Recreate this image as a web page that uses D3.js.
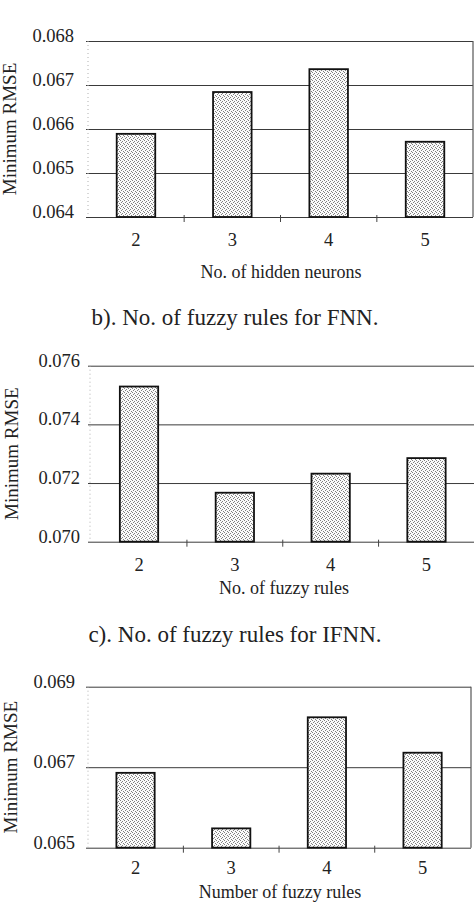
<!DOCTYPE html>
<html>
<head>
<meta charset="utf-8">
<script src="https://cdnjs.cloudflare.com/ajax/libs/d3/7.8.5/d3.min.js"></script>
<style>
	body { margin: 0; background: #fff; }
	svg { display: block; font-family: "Liberation Serif", "Times New Roman", serif; }
</style>
</head>
<body>
<script>

// x categories, the same in all three panels
var categories = ['2', '3', '4', '5'];

// a) hidden neurons
var hiddenNeuronsRMSE = [0.06589, 0.06684, 0.06736, 0.06571];
var hiddenNeuronsTicks = [0.064, 0.065, 0.066, 0.067, 0.068];

// b) fuzzy rules for FNN
var fnnRMSE = [0.07529, 0.07167, 0.07232, 0.07285];
var fnnTicks = [0.070, 0.072, 0.074, 0.076];

// c) fuzzy rules for IFNN
var ifnnRMSE = [0.06686, 0.06548, 0.06824, 0.06736];
var ifnnTicks = [0.065, 0.067, 0.069];

var panelTitles = [null, 'b). No. of fuzzy rules for FNN.', 'c). No. of fuzzy rules for IFNN.'];
var xTitles = ['No. of hidden neurons', 'No. of fuzzy rules', 'Number of fuzzy rules'];
var yTitle = 'Minimum RMSE';


var width = 474,
	height = 903;

var svg = d3.select('body').append('svg')
	.attr('width', width)
	.attr('height', height);

// stipple fill of the bars
var pattern = svg.append('defs').append('pattern')
	.attr('id', 'stipple')
	.attr('patternUnits', 'userSpaceOnUse')
	.attr('width', 4)
	.attr('height', 4);

pattern.append('rect').attr('width', 4).attr('height', 4).attr('fill', '#fbfbfb');
[[0, 0], [2, 1], [1, 2], [3, 3]].forEach(function(p) {
	pattern.append('rect')
		.attr('x', p[0]).attr('y', p[1])
		.attr('width', 1).attr('height', 1)
		.attr('fill', '#808080');
});


// where each panel sits on the page
var layout = [
	{values: hiddenNeuronsRMSE, ticks: hiddenNeuronsTicks, top: 41, bottom: 217,
		gridLeft: 86, bandLeft: 87.8, bandRight: 473.2, right: 473, labelGap: 12,
		xLabelY: 246, xTitleX: 281, xTitleY: 278, yTitleX: 16, titleY: null, rightBorder: true},
	{values: fnnRMSE, ticks: fnnTicks, top: 365.7, bottom: 541.7,
		gridLeft: 88, bandLeft: 91.1, bandRight: 474.4, right: 474, labelGap: 8,
		xLabelY: 571, xTitleX: 284, xTitleY: 594, yTitleX: 18, titleY: 325, rightBorder: false},
	{values: ifnnRMSE, ticks: ifnnTicks, top: 686.7, bottom: 847.7,
		gridLeft: 86, bandLeft: 87.7, bandRight: 470.4, right: 471, labelGap: 11,
		xLabelY: 874, xTitleX: 280, xTitleY: 898, yTitleX: 17, titleY: 642, rightBorder: true}
];


function drawPanel(p, i) {

	var g = svg.append('g').attr('class', 'panel');

	var y = d3.scaleLinear()
		.domain(d3.extent(p.ticks))
		.range([p.bottom, p.top]);

	var x = d3.scaleBand()
		.domain(categories)
		.range([p.bandLeft, p.bandRight])
		.paddingInner(0.6)
		.paddingOuter(0.3);

	// horizontal grid lines
	var grid = g.append('g')
		.attr('transform', 'translate(' + p.gridLeft + ',0)')
		.call(d3.axisLeft(y).tickValues(p.ticks).tickSize(-(p.right - p.gridLeft)).tickFormat(''));
	grid.select('.domain').remove();
	grid.selectAll('line').attr('stroke', '#3a3a3a').attr('stroke-width', 1);

	// faint left axis
	g.append('line')
		.attr('x1', p.gridLeft + 2).attr('x2', p.gridLeft + 2)
		.attr('y1', p.top).attr('y2', p.bottom)
		.attr('stroke', '#b0b0b0')
		.attr('stroke-dasharray', '1,3');

	if (p.rightBorder) {
		g.append('line')
			.attr('x1', p.right).attr('x2', p.right)
			.attr('y1', p.top).attr('y2', p.bottom)
			.attr('stroke', '#555')
			.attr('stroke-width', 1.2);
	}

	// y tick labels
	var yAxis = g.append('g')
		.attr('transform', 'translate(' + p.gridLeft + ',0)')
		.call(d3.axisLeft(y).tickValues(p.ticks).tickSize(0).tickPadding(p.labelGap).tickFormat(d3.format('.3f')));
	yAxis.select('.domain').remove();
	yAxis.selectAll('text')
		.attr('dy', '0.02em')
		.attr('font-size', 18.5)
		.attr('font-family', '"Liberation Serif", serif')
		.attr('fill', '#222');

	// small separator ticks between the categories
	var step = x.step();
	g.selectAll('line.sep')
		.data(categories.slice(0, -1))
		.enter().append('line')
		.attr('class', 'sep')
		.attr('x1', function(d) { return x(d) + x.bandwidth() / 2 + step / 2; })
		.attr('x2', function(d) { return x(d) + x.bandwidth() / 2 + step / 2; })
		.attr('y1', p.bottom - 2)
		.attr('y2', p.bottom + 5)
		.attr('stroke', '#444');

	// bars
	g.selectAll('rect.bar')
		.data(p.values)
		.enter().append('rect')
		.attr('class', 'bar')
		.attr('x', function(d, j) { return x(categories[j]); })
		.attr('y', function(d) { return y(d); })
		.attr('width', x.bandwidth())
		.attr('height', function(d) { return p.bottom - y(d); })
		.attr('fill', 'url(#stipple)')
		.attr('stroke', '#111')
		.attr('stroke-width', 1.8);

	// x tick labels
	var xAxis = g.append('g')
		.attr('transform', 'translate(0,' + p.bottom + ')')
		.call(d3.axisBottom(x).tickSize(0));
	xAxis.select('.domain').remove();
	xAxis.selectAll('text')
		.attr('y', p.xLabelY - p.bottom)
		.attr('dy', 0)
		.attr('font-size', 18.5)
		.attr('font-family', '"Liberation Serif", serif')
		.attr('fill', '#222');

	// axis titles
	g.append('text')
		.attr('x', p.xTitleX)
		.attr('y', p.xTitleY)
		.attr('text-anchor', 'middle')
		.attr('font-size', 18)
		.attr('fill', '#222')
		.text(xTitles[i]);

	g.append('text')
		.attr('transform', 'translate(' + p.yTitleX + ',' + ((p.top + p.bottom) / 2) + ') rotate(-90)')
		.attr('text-anchor', 'middle')
		.attr('font-size', 19)
		.attr('fill', '#222')
		.text(yTitle);

	if (panelTitles[i]) {
		g.append('text')
			.attr('x', 235)
			.attr('y', p.titleY)
			.attr('text-anchor', 'middle')
			.attr('font-size', 23)
			.attr('fill', '#222')
			.text(panelTitles[i]);
	}
}

layout.forEach(drawPanel);

</script>
</body>
</html>
